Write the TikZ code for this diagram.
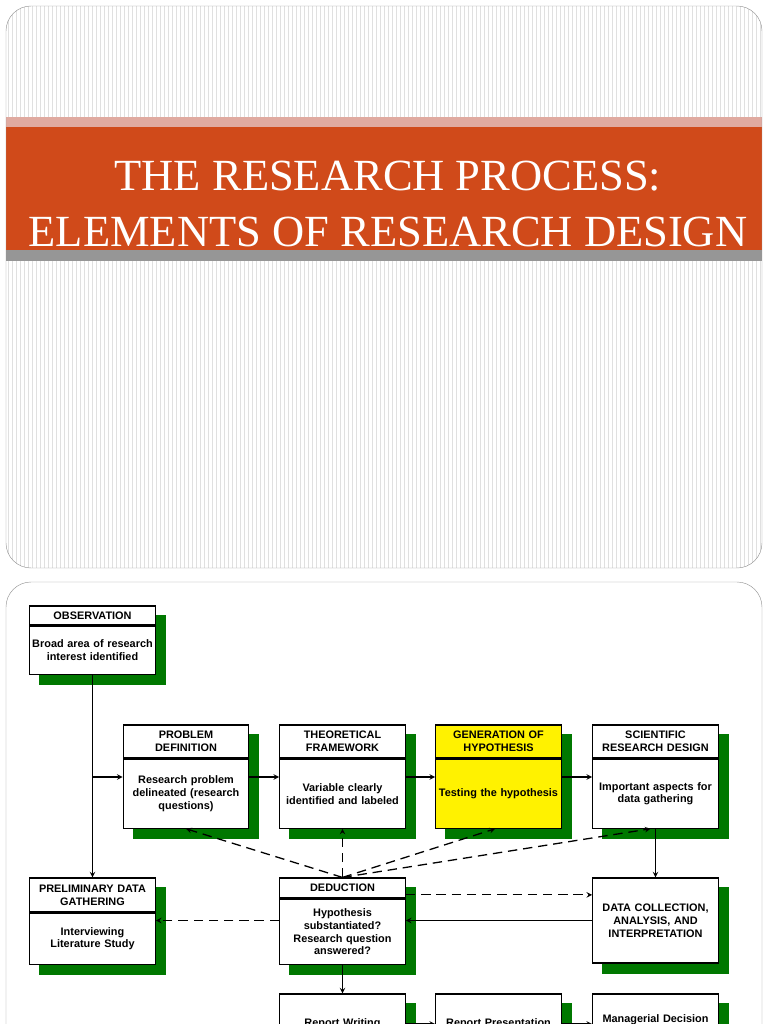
\documentclass[tikz,border=0pt]{standalone}
\usepackage{fontspec}
\setmainfont{Liberation Serif}
\setsansfont{Liberation Sans}
\usetikzlibrary{arrows, positioning}
\pgfdeclarelayer{back}
\pgfdeclarelayer{background}
\pgfsetlayers{back,background,main}
\definecolor{slideRed}{RGB}{208,74,26}
\definecolor{slidePink}{RGB}{224,170,160}
\definecolor{slideGray}{RGB}{150,150,150}
\definecolor{boxGreen}{RGB}{0,120,0}

\begin{document}
\hyphenpenalty=10000
\begin{tikzpicture}[x=0.03cm, y=-0.03cm]
	\tikzstyle{head} = [rectangle, draw=black, line width=1pt, fill=white, minimum width=3.75cm, 
	inner sep=1pt, text width=3.7cm, align=center,
	font=\sffamily\bfseries\fontsize{9.3}{11}\selectfont]
	\tikzstyle{body} = [head, fill=white]
	\tikzstyle{arrow} = [line width=1.1pt,->,>=stealth]
	\tikzstyle{dasharrow} = [arrow, dash pattern=on 8pt off 5pt]
	\useasboundingbox (0,0) rectangle (768,1024);
	% slides
	\begin{pgfonlayer}{back}
		\begin{scope}
			\clip[rounded corners=0.75cm] (6,6) rectangle (762,568);
			\fill[white] (6,6) rectangle (762,568);
			\foreach \x in {8,12,...,760}
				\draw[black!12, line width=0.4pt] (\x,6) -- (\x,568);
			\fill[slidePink] (6,117) rectangle (762,127);
			\fill[slideRed] (6,127) rectangle (762,250);
			\fill[slideGray] (6,250) rectangle (762,261);
		\end{scope}
		\draw[black!40, rounded corners=0.75cm] (6,6) rectangle (762,568);
		\draw[black!40, fill=white, rounded corners=0.75cm] (6,582) rectangle (762,1060);
	\end{pgfonlayer}
	\node (title) [text=white, align=center, font=\fontsize{38}{47}\selectfont] at (388,204)
		{THE RESEARCH PROCESS:\\ELEMENTS OF RESEARCH DESIGN};
	% boxes
	\node (obsHead) [head, minimum height=0.57cm] at (92.5,615.5) {OBSERVATION};
	\node (obsBody) [body, minimum height=1.44cm, below=0 of obsHead] {Broad area of research interest identified};
	\node (probHead) [head, minimum height=0.99cm] at (186,741.5) {PROBLEM\\DEFINITION};
	\node (probBody) [body, minimum height=2.07cm, below=0 of probHead] {Research problem\\delineated (research questions)};
	\node (theoHead) [head, minimum height=0.99cm] at (342.5,741.5) {THEORETICAL\\FRAMEWORK};
	\node (theoBody) [body, minimum height=2.07cm, below=0 of theoHead] {Variable clearly identified and labeled};
	\node (genHead) [head, fill=yellow, minimum height=0.99cm] at (498.5,741.5) {GENERATION OF\\HYPOTHESIS};
	\node (genBody) [body, fill=yellow, minimum height=2.07cm, below=0 of genHead] {Testing the hypothesis};
	\node (sciHead) [head, minimum height=0.99cm] at (655.5,741.5) {SCIENTIFIC\\RESEARCH DESIGN};
	\node (sciBody) [body, minimum height=2.07cm, below=0 of sciHead] {Important aspects for\\data gathering};
	\node (preHead) [head, minimum height=1.02cm] at (92.5,895) {PRELIMINARY DATA\\GATHERING};
	\node (preBody) [body, minimum height=1.53cm, below=0 of preHead] {Interviewing\\Literature Study};
	\node (dedHead) [head, minimum height=0.6cm] at (342.5,888) {DEDUCTION};
	\node (dedBody) [body, minimum height=1.95cm, below=0 of dedHead] {Hypothesis\\substantiated?\\Research question answered?};
	\node (data) [body, minimum height=2.55cm] at (655.5,920.5) {DATA COLLECTION,\\ANALYSIS, AND\\INTERPRETATION};
	\node (writing) [body, minimum height=1.8cm] at (342.5,1024) {Report Writing};
	\node (present) [body, minimum height=1.8cm] at (498.5,1024) {Report Presentation};
	\node (decision) [body, minimum height=1.8cm] at (655.5,1024) {\raisebox{9pt}{Managerial Decision}};
	% shadows
	\begin{pgfonlayer}{background}
		\foreach \hd/\bd in {obsHead/obsBody, probHead/probBody, theoHead/theoBody, genHead/genBody,
			sciHead/sciBody, preHead/preBody, dedHead/dedBody, data/data, writing/writing,
			present/present, decision/decision}
			\fill[boxGreen] ([shift={(10,10)}]\hd.north west) rectangle ([shift={(10,10)}]\bd.south east);
	\end{pgfonlayer}
	% connectors
	\coordinate (probIn) at ([yshift=.5cm]probBody.west);
	\coordinate (branch) at (obsBody.south |- probIn);
	\draw [line width=1.1pt] (obsBody.south) -- (branch);
	\draw [arrow] (branch) -- (preHead.north);
	\draw [arrow] (branch) -- (probIn);
	\draw [arrow] ([yshift=.5cm]probBody.east) -- ([yshift=.5cm]theoBody.west);
	\draw [arrow] ([yshift=.5cm]theoBody.east) -- ([yshift=.5cm]genBody.west);
	\draw [arrow] ([yshift=.5cm]genBody.east) -- ([yshift=.5cm]sciBody.west);
	\draw [arrow] (sciBody.south) -- (data.north);
	\draw [dasharrow] (dedHead.north) -- (probBody.south);
	\draw [dasharrow] (dedHead.north) -- (theoBody.south);
	\draw [dasharrow] (dedHead.north) -- ([xshift=-.1cm]genBody.south);
	\draw [dasharrow] (dedHead.north) -- ([xshift=-.15cm]sciBody.south);
	\draw [dasharrow] ([yshift=.77cm]data.west -| dedHead.east) -- ([yshift=.77cm]data.west);
	\draw [arrow] (data.west) -- (data.west -| dedBody.east);
	\draw [dasharrow] (data.west -| dedBody.west) -- (data.west -| preBody.east);
	\draw [arrow] (dedBody.south) -- (writing.north);
	\draw [arrow] (writing.east) -- (present.west);
	\draw [arrow] (present.east) -- (decision.west);
\end{tikzpicture}
\end{document}
